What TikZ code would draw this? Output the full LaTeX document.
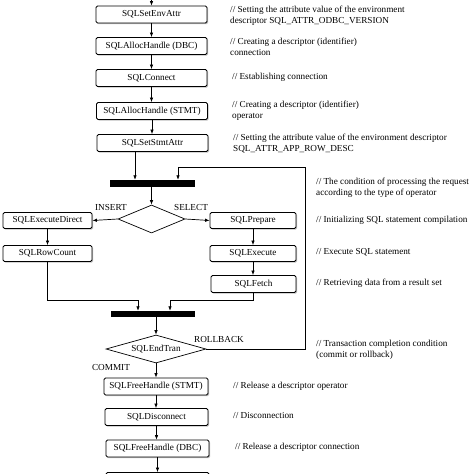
\documentclass[tikz,border=0pt]{standalone}
\usepackage{fontspec}
\setmainfont{Liberation Serif}
\usetikzlibrary{arrows.meta,shapes.geometric,shadows}

\begin{document}
\begin{tikzpicture}[x=1pt, y=-1pt, >={Latex[length=4.5pt,width=3.5pt]},
    font=\fontsize{9.2}{11}\selectfont,
    fn/.style={draw, rounded corners=1.5pt, line width=0.8pt, fill=white, inner sep=0pt,
        minimum height=17pt, drop shadow={shadow xshift=1.2pt, shadow yshift=-1.2pt, fill=black!50}},
    syncbar/.style={fill=black, inner sep=0pt, minimum width=85pt, minimum height=7pt},
    choice/.style={draw, diamond, line width=0.7pt, inner sep=0pt, fill=white},
    note/.style={anchor=west, align=left, inner sep=0pt},
    flow/.style={->, line width=0.7pt}]
    \useasboundingbox (0,0) rectangle (474,474);
    \clip (0,0) rectangle (474,474);

    \coordinate (start) at (151.5,0);
    \node[fn, minimum width=111pt] (envattr) at (151.5,14.5) {SQLSetEnvAttr};
    \node[fn, minimum width=111pt] (allocdbc) at (151.5,46) {SQLAllocHandle (DBC)};
    \node[fn, minimum width=111pt] (connect) at (151.5,78) {SQLConnect};
    \node[fn, minimum width=111pt] (allocstmt) at (152,111) {SQLAllocHandle (STMT)};
    \node[fn, minimum width=111pt] (stmtattr) at (152.5,143) {SQLSetStmtAttr};
    \node[syncbar] (bar1) at (152.5,183.5) {};
    \node[choice, aspect=2.4, minimum width=67pt, minimum height=28pt] (optype) at (151.5,219) {};
    \node[fn, minimum width=89pt, minimum height=16pt] (execdirect) at (47.5,220.5) {SQLExecuteDirect};
    \node[fn, minimum width=89pt, minimum height=16pt] (rowcount) at (47.5,253.5) {SQLRowCount};
    \node[fn, minimum width=86pt, minimum height=16pt] (prepare) at (253,220.5) {SQLPrepare};
    \node[fn, minimum width=86pt, minimum height=16pt] (execute) at (253,253.5) {SQLExecute};
    \node[fn, minimum width=85pt] (fetch) at (253.5,284) {SQLFetch};
    \node[syncbar, minimum width=84pt, minimum height=6pt] (bar2) at (153,314) {};
    \node[choice, aspect=3.6, minimum width=100pt, minimum height=28pt] (endtran) at (156,349) {SQLEndTran};
    \node[fn, minimum width=104pt] (freestmt) at (156,386.5) {SQLFreeHandle (STMT)};
    \node[fn, minimum width=103pt] (disconnect) at (156.5,417) {SQLDisconnect};
    \node[fn, minimum width=103pt] (freedbc) at (157.5,448.5) {SQLFreeHandle (DBC)};
    \node[fn, minimum width=103pt] (lastbox) at (157.5,481) {};
    \coordinate (loop) at (305,167);

    \draw[flow] (start) -- (envattr.north);
    \draw[flow] (envattr.south) -- (envattr.south |- allocdbc.north);
    \draw[flow] (allocdbc.south) -- (allocdbc.south |- connect.north);
    \draw[flow] (connect.south) -- (connect.south |- allocstmt.north);
    \draw[flow] (allocstmt.south) -- (allocstmt.south |- stmtattr.north);
    \draw[flow] ([xshift=-17.5pt]stmtattr.south) -- ([xshift=-17.5pt]stmtattr.south |- bar1.north);
    \draw[flow] (bar1.south -| optype.north) -- (optype.north);
    \draw[flow] (optype.west) -- (execdirect.east);
    \draw[flow] (optype.east) -- (prepare.west);
    \draw[flow] (execdirect.south) -- (execdirect.south |- rowcount.north);
    \draw[flow] (prepare.south) -- (prepare.south |- execute.north);
    \draw[flow] (execute.south) -- (execute.south |- fetch.north);
    \draw[flow] (rowcount.south) -- ++(0,38.5) -| ([xshift=-15pt]bar2.north);
    \draw[flow] (fetch.south) -- ++(0,7.5) -| ([xshift=17pt]bar2.north);
    \draw[flow] (bar2.south -| endtran.north) -- (endtran.north);
    \draw[flow] (endtran.east) -| (loop) -| ([xshift=25.5pt]bar1.north);
    \draw[flow] (endtran.south) -- (endtran.south |- freestmt.north);
    \draw[flow] (freestmt.south) -- (freestmt.south |- disconnect.north);
    \draw[flow] (disconnect.south) -- (disconnect.south |- freedbc.north);
    \draw[flow] (freedbc.south) -- (freedbc.south |- lastbox.north);

    \node (insert) at (111,207) {INSERT};
    \node (select) at (191,207) {SELECT};
    \node (rollback) at (219,339) {ROLLBACK};
    \node (commit) at (111,367) {COMMIT};

    \node[note] (n1) at (230,15.5) {// Setting the attribute value of the environment\\descriptor SQL\_ATTR\_ODBC\_VERSION};
    \node[note] (n2) at (230,47) {// Creating a descriptor (identifier)\\connection};
    \node[note] (n3) at (232,77) {// Establishing connection};
    \node[note] (n4) at (232,111) {// Creating a descriptor (identifier)\\operator};
    \node[note] (n5) at (233,143.5) {// Setting the attribute value of the environment descriptor\\SQL\_ATTR\_APP\_ROW\_DESC};
    \node[note] (n6) at (316,187.5) {// The condition of processing the request\\according to the type of operator};
    \node[note] (n7) at (316,220) {// Initializing SQL statement compilation};
    \node[note] (n8) at (316,252) {// Execute SQL statement};
    \node[note] (n9) at (316,283) {// Retrieving data from a result set};
    \node[note] (n10) at (316,349.5) {// Transaction completion condition\\(commit or rollback)};
    \node[note] (n11) at (233,386) {// Release a descriptor operator};
    \node[note] (n12) at (233,415) {// Disconnection};
    \node[note] (n13) at (235,447) {// Release a descriptor connection};
\end{tikzpicture}
\end{document}
